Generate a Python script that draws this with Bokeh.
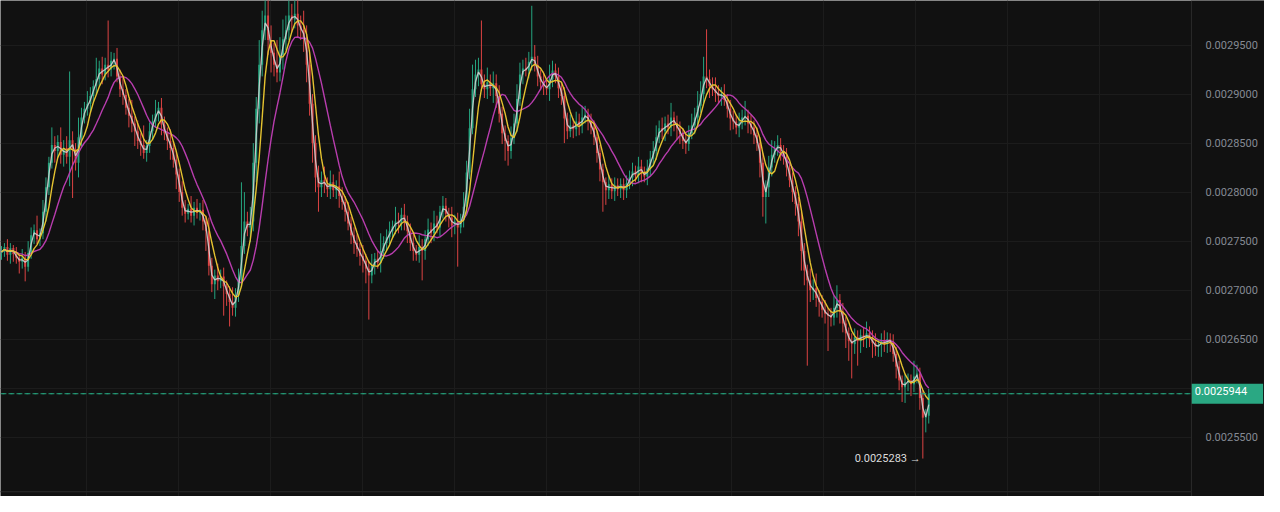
import numpy as np
import pandas as pd
from bokeh.plotting import figure
from bokeh.models import (Range1d, FixedTicker, Span, Label, ColumnDataSource,
                          PrintfTickFormatter, BoxAnnotation)
from bokeh.embed import file_html
from bokeh.resources import INLINE

# ---- data (prices in units of 1e-7) ----
SCALE = 1e-7
first_open_u = 27380
close_u = [
27390,27440,27360,27430,27370,27330,27290,27330,27240,27380,
27560,27610,27520,27580,27800,28050,28300,28480,28420,28510,
28380,28450,28360,28530,28440,28300,28560,28760,28850,28900,
28980,29080,29150,29260,29200,29300,29250,29340,29360,29180,
29050,28990,28860,28780,28700,28620,28520,28480,28400,28470,
28620,28720,28800,28860,28690,28600,28520,28450,28330,28180,
28000,27840,27780,27830,27760,27840,27790,27820,27700,27600,
27250,27060,27150,27090,27140,27040,26960,26880,26820,26950,
27100,27450,27700,27640,27700,28300,28850,29300,29650,29800,
29550,29420,29300,29220,29400,29560,29650,29800,29760,29820,
29700,29650,29580,29300,28900,28500,28150,28050,28120,28080,
28030,28100,28020,28060,27960,27900,27800,27680,27560,27480,
27420,27350,27300,27220,27150,27250,27320,27280,27400,27480,
27540,27600,27650,27700,27680,27770,27700,27600,27480,27400,
27360,27440,27400,27520,27620,27580,27680,27640,27800,27860,
27780,27740,27660,27700,27640,27720,27850,28200,28650,29050,
29200,29250,29100,29050,29120,29060,29110,28980,28800,28600,
28520,28420,28550,28700,28950,29200,29260,29240,29330,29380,
29300,29180,29120,29080,29050,29150,29240,29180,29060,28980,
28750,28620,28680,28640,28720,28680,28760,28790,28720,28660,
28560,28400,28230,28100,28020,28080,28010,28070,28030,28080,
28020,28090,28150,28210,28170,28260,28200,28160,28240,28340,
28420,28560,28650,28620,28700,28660,28760,28700,28650,28590,
28520,28490,28600,28680,28760,28880,29000,29180,29150,29080,
29050,29010,28980,29000,28940,28850,28750,28720,28660,28700,
28760,28780,28700,28660,28580,28500,28300,27950,28050,28250,
28380,28440,28480,28420,28360,28250,28120,28000,27880,27700,
27400,27200,27100,27000,27020,26920,26880,26800,26760,26740,
26720,26820,26900,26780,26660,26560,26480,26450,26520,26480,
26540,26510,26560,26500,26460,26420,26440,26480,26450,26500,
26470,26350,26220,26080,26010,26060,26080,26040,26120,26150,
25900,25700,25720,25944]
upper_wick_u = [
60,40,80,50,30,70,40,90,60,120,
80,60,150,50,120,100,60,180,90,70,
150,80,120,700,90,60,200,100,70,130,
90,60,220,80,120,70,450,90,60,110,
70,120,60,90,160,70,110,80,200,60,
90,70,140,60,100,80,60,120,70,90,
60,110,80,50,130,60,90,70,100,60,
140,80,60,120,70,90,60,80,150,70,
120,650,300,100,150,200,120,250,200,300,
200,150,100,250,180,200,150,200,120,150,
150,100,200,120,150,100,80,120,90,140,
70,120,80,60,150,90,60,100,70,80,
90,60,110,70,80,120,60,90,180,70,
80,100,60,150,90,70,110,60,80,100,
60,120,80,90,110,70,130,80,60,100,
80,60,110,70,90,60,150,120,200,250,
150,120,500,100,150,80,120,90,110,70,
80,60,120,100,150,120,90,110,100,520,
120,90,70,110,80,150,100,70,90,60,
90,60,110,70,100,80,120,90,60,80,
70,60,80,60,50,90,60,80,70,60,
60,80,70,90,60,100,70,60,90,80,
100,120,80,110,70,90,150,60,80,70,
60,90,80,120,100,150,130,200,480,100,
90,120,80,70,100,60,90,80,70,110,
80,150,60,90,70,80,60,100,70,120,
150,80,100,70,60,90,50,80,60,70,
100,80,60,120,90,150,80,70,100,60,
80,120,150,60,90,70,60,80,90,70,
60,80,120,70,90,100,60,80,110,70,
60,80,70,60,50,80,70,60,160,90,
60,80,70,50]
lower_wick_u = [
70,50,60,90,80,60,120,70,150,50,
60,90,50,70,60,100,80,60,120,70,
90,120,70,300,500,80,150,90,60,70,
80,60,90,70,100,60,80,70,90,60,
80,100,70,120,90,150,80,110,60,90,
70,90,60,80,110,70,90,120,80,150,
100,80,90,60,70,100,60,80,90,200,
100,80,150,90,70,300,120,250,80,90,
70,60,80,90,150,100,200,150,120,100,
150,200,120,100,90,150,110,100,130,90,
120,100,150,180,120,200,150,250,100,90,
80,100,70,90,120,80,100,70,90,110,
80,100,120,150,450,80,90,60,100,80,
70,90,60,80,100,70,90,120,80,100,
60,80,300,90,70,100,80,60,90,70,
80,100,120,90,400,60,80,90,70,60,
80,120,70,90,100,80,150,120,90,110,
200,150,80,60,90,70,100,60,80,90,
70,100,80,90,60,120,80,70,100,90,
250,80,60,90,70,100,80,60,90,70,
80,100,120,300,150,90,80,100,70,90,
100,80,60,90,70,80,100,60,90,70,
70,90,60,80,100,70,90,80,120,100,
80,100,70,60,90,80,70,100,90,120,
70,90,80,100,60,90,120,80,70,100,
60,80,100,70,90,80,150,200,270,100,
90,80,70,100,80,90,70,100,120,150,
200,150,870,120,100,90,150,80,100,360,
90,80,100,120,90,150,200,350,100,250,
120,90,100,80,150,90,100,120,80,90,
100,80,120,100,150,160,90,120,80,70,
120,417,150,80]
last_price_u = 25944
low_price_u = 25283
low_index = 311
price_ticks_u = [25500, 26000, 26500, 27000, 27500, 28000, 28500, 29000, 29500]
time_grid_ticks = [28.67, 59.67, 90.67, 122.0, 153.0, 184.0, 215.33, 246.33,
                   277.33, 308.67, 339.67, 370.67]

# ---- layout constants (not data) ----
PANE_RIGHT = 401.67       # x where the price scale begins
PANE_BOTTOM = 24945 * SCALE

# ---- derived ----
close = np.array(close_u, dtype=float) * SCALE
open_ = np.concatenate([[first_open_u], close_u[:-1]]).astype(float) * SCALE
top = np.maximum(open_, close)
bot = np.minimum(open_, close)
high = top + np.array(upper_wick_u) * SCALE
low = bot - np.array(lower_wick_u) * SCALE
idx = np.arange(len(close_u))
GREEN = "#25a47f"
RED = "#dc4343"
colors = [GREEN if c >= o else RED for o, c in zip(open_, close)]

s = pd.Series(close)
ma_fast = s.rolling(2, min_periods=1).mean()
ma_mid = s.rolling(5, min_periods=1).mean()
ma_slow = s.rolling(12, min_periods=1).mean()

src = ColumnDataSource(dict(x=idx, top=top, bot=bot, high=high, low=low, color=colors,
                            ma1=ma_fast, ma2=ma_mid, ma3=ma_slow))

BG = "#111111"
GRID = "#1c1c1c"
p = figure(frame_width=1264, frame_height=496,
           x_range=Range1d(-0.333, 426.33), y_range=Range1d(0.0024896, 0.0029954),
           x_axis_location=None, y_axis_location="right",
           toolbar_location=None, output_backend="svg",
           background_fill_color=BG, border_fill_color=BG,
           min_border_left=0, min_border_top=0, min_border_bottom=0, min_border_right=0,
           outline_line_color=None)

ax = p.yaxis[0]
ax.ticker = FixedTicker(ticks=[t * SCALE for t in price_ticks_u])
ax.formatter = PrintfTickFormatter(format="%.7f")
ax.major_label_text_color = "#858a94"
ax.major_label_text_font = "Roboto"
ax.major_label_text_font_size = "11px"
ax.axis_line_color = None
ax.major_tick_line_color = None
ax.minor_tick_line_color = None
ax.major_label_standoff = -65
p.ygrid.grid_line_color = GRID
p.xgrid.ticker = FixedTicker(ticks=time_grid_ticks)
p.xgrid.grid_line_color = GRID

# price-scale area: plain background, separated by a thin line
p.add_layout(BoxAnnotation(left=PANE_RIGHT, fill_color=BG, fill_alpha=1.0,
                           line_color=None, level="underlay"))
p.add_layout(Span(location=PANE_RIGHT, dimension="height", line_color="#2a2a2a", line_width=1))
p.add_layout(BoxAnnotation(right=PANE_RIGHT, top=PANE_BOTTOM, bottom=PANE_BOTTOM,
                           fill_alpha=0, line_color="#262626", line_alpha=1.0, line_width=1))

p.segment(x0="x", y0="high", x1="x", y1="low", color="color", line_width=1, source=src)
p.vbar(x="x", width=0.66, top="top", bottom="bot", fill_color="color", line_color=None, source=src)

p.line("x", "ma3", source=src, line_color="#b83dae", line_width=1.4)
p.line("x", "ma1", source=src, line_color="#cfcfcf", line_width=1.3, line_alpha=0.9)
p.line("x", "ma2", source=src, line_color="#e4c230", line_width=1.4)

p.add_layout(BoxAnnotation(right=PANE_RIGHT, top=last_price_u * SCALE, bottom=last_price_u * SCALE,
                           fill_alpha=0, line_color="#26a17b", line_alpha=1.0,
                           line_dash="4 4", line_width=1))

p.add_layout(Label(x=PANE_RIGHT + 0.1, y=last_price_u * SCALE, text="0.0025944", text_font="Roboto",
                   text_font_size="11px", text_color="#ffffff", text_baseline="middle",
                   text_align="left", background_fill_color="#2aa883",
                   padding=(3, 16, 3, 9)))
p.add_layout(Label(x=low_index - 0.7, y=low_price_u * SCALE, text="0.0025283 \u2192",
                   text_font="Roboto", text_font_size="11px", text_color="#dcdcdc",
                   text_baseline="middle", text_align="right"))

open("out.html", "w").write(file_html(p, INLINE))
